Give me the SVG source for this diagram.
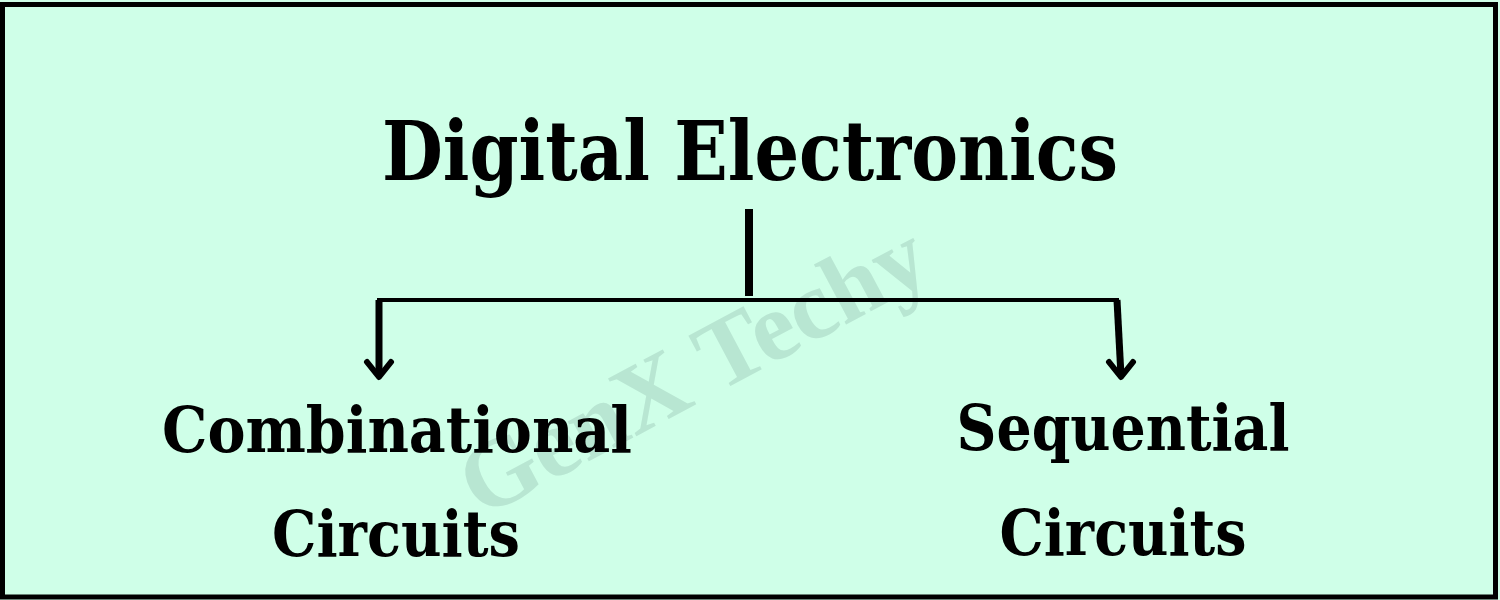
<svg xmlns="http://www.w3.org/2000/svg" width="1500" height="600" viewBox="0 0 1500 600">
<style>
.t{font-family:"DejaVu Serif","Liberation Serif",serif;font-weight:bold;fill:#000}
.ln{stroke:#000;fill:none;stroke-linecap:square}
.ah{stroke:#000;fill:none;stroke-width:6;stroke-linecap:round;stroke-linejoin:round}
</style>
<rect x="0" y="0" width="1500" height="600" fill="#cfffe8"/>
<rect x="2.5" y="4.5" width="1493" height="592.5" fill="#cfffe8" stroke="#000" stroke-width="5"/>
<text x="708" y="398" transform="rotate(-28 708 398)" text-anchor="middle" style="font-family:'Liberation Serif',serif;font-weight:bold;font-size:98px;fill:#b8e6d2">GenX Techy</text>
<g id="root"><text class="t" x="750" y="180" text-anchor="middle" font-size="82" textLength="736" lengthAdjust="spacingAndGlyphs">Digital Electronics</text></g>
<g id="combinational"><text class="t" x="397" y="452" text-anchor="middle" font-size="64" textLength="470" lengthAdjust="spacingAndGlyphs">Combinational</text><text class="t" x="396" y="556" text-anchor="middle" font-size="64" textLength="248" lengthAdjust="spacingAndGlyphs">Circuits</text></g>
<g id="sequential"><text class="t" x="1123" y="450" text-anchor="middle" font-size="64" textLength="333" lengthAdjust="spacingAndGlyphs">Sequential</text><text class="t" x="1123" y="555" text-anchor="middle" font-size="64" textLength="247" lengthAdjust="spacingAndGlyphs">Circuits</text></g>
<g id="connectors">
<line class="ln" x1="749" y1="209" x2="749" y2="296" stroke-width="8" style="stroke-linecap:butt"/>
<polyline class="ln" points="379,376 379,300 1119,300" stroke-width="4" style="stroke-linecap:butt"/>
<line x1="379" y1="300" x2="379" y2="376" stroke="#000" stroke-width="7"/>
<line x1="1117" y1="300" x2="1121" y2="376" stroke="#000" stroke-width="7"/>
<polyline class="ah" points="367,362 379,377 391,362"/>
<polyline class="ah" points="1109,362 1121,377 1133,362"/>
</g>
</svg>
